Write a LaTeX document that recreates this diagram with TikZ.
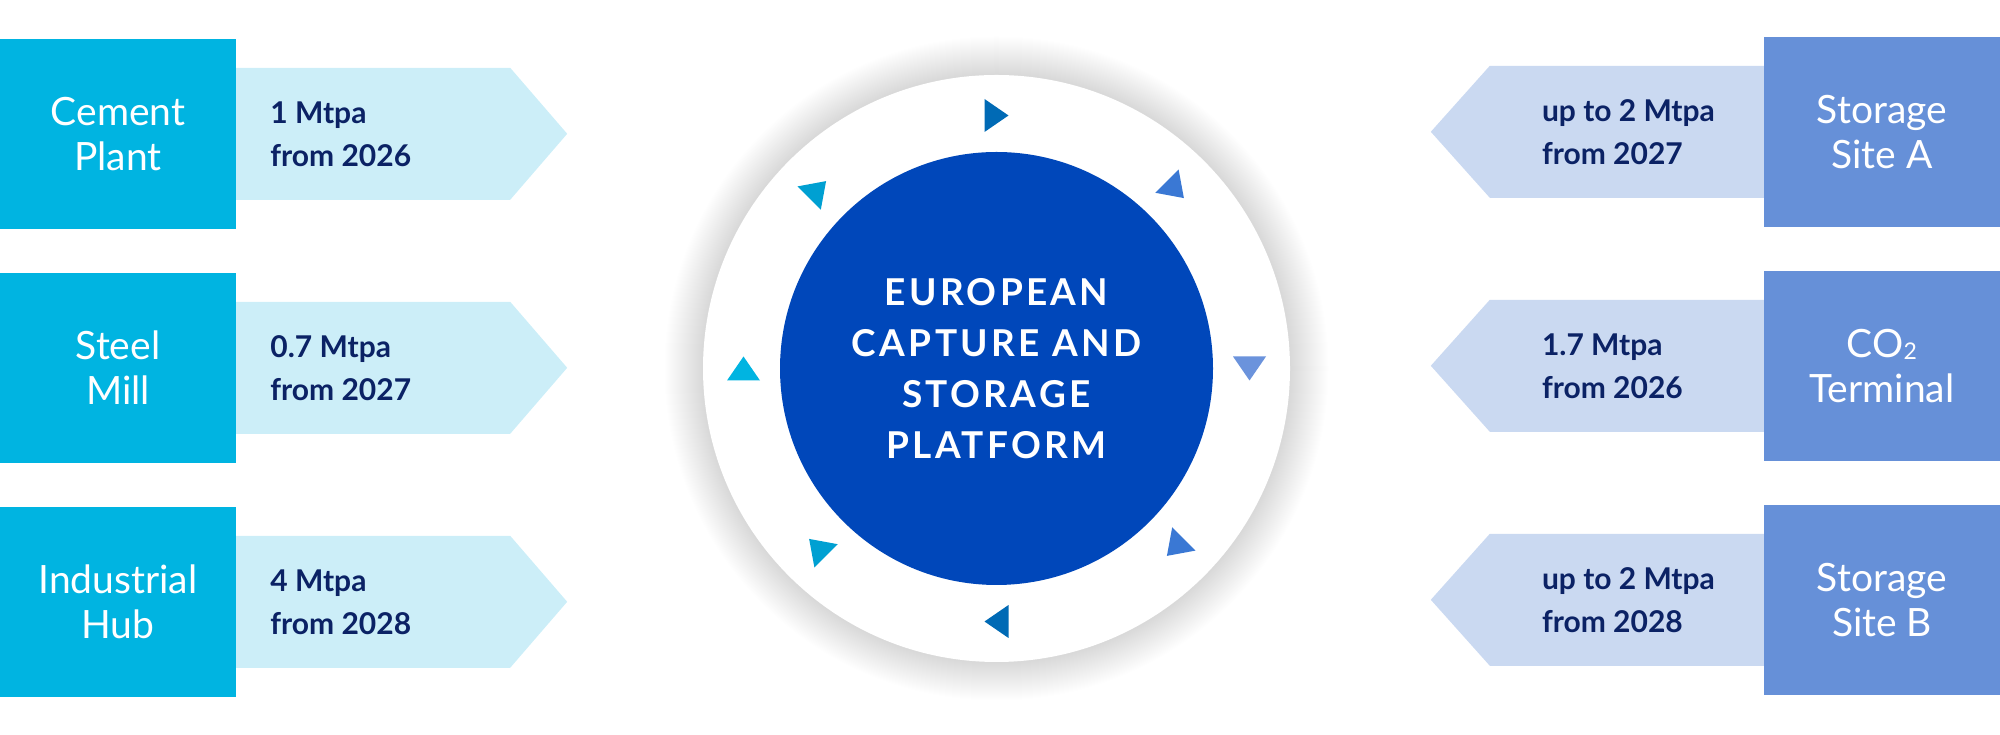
\documentclass[tikz,border=0pt]{standalone}
\usepackage{fontspec}
\setmainfont{Lato}
\newfontfamily\spacedfont[LetterSpace=9]{Lato}
\definecolor{srcfill}{HTML}{00B4E1}
\definecolor{srclight}{HTML}{CCEEF8}
\definecolor{sinkfill}{HTML}{6690D8}
\definecolor{sinklight}{HTML}{CAD9F1}
\definecolor{hubfill}{HTML}{0047BA}
\definecolor{navy}{HTML}{0B2265}
\definecolor{triA}{HTML}{6B93DC}
\definecolor{triB}{HTML}{3A78D4}
\definecolor{triC}{HTML}{006AB5}
\definecolor{triD}{HTML}{00A0D2}
\definecolor{triE}{HTML}{00B4E1}
\begin{document}
\begin{tikzpicture}[x=1pt,y=1pt,line join=round,
    srcbox/.style={fill=srcfill,text=white,minimum width=236pt,minimum height=190pt,inner sep=0pt,align=center,font=\fontsize{39}{45}\selectfont},
    sinkbox/.style={srcbox,fill=sinkfill},
    amount/.style={text=navy,align=left,inner sep=0pt,font=\bfseries\fontsize{30}{43}\selectfont}]
    \useasboundingbox (0,0) rectangle (2000,735);
    \coordinate (c) at (996.5,366.5);
    \foreach \i in {1,...,40} \fill[black,opacity=0.0022] (c) circle ({292pt+\i pt});
    \fill[white] (c) circle (293.5pt);
    \node[circle,fill=hubfill,minimum size=433pt,inner sep=0pt,text=white,align=center,
        font=\spacedfont\bfseries\fontsize{37}{51}\selectfont] (hub) at (c) {EUROPEAN\\CAPTURE AND\\STORAGE\\PLATFORM};
    \foreach \a/\col in {0/triA,45/triB,90/triC,135/triD,180/triE,225/triD,270/triC,315/triB}
        \fill[\col,shift={(c)},rotate=\a] (253,-12) -- (236.5,12) -- (269.5,12) -- cycle;
    \foreach \y/\n/\site/\amt in {601/1/Cement\\Plant/1 Mtpa\\from 2026,
        367/2/Steel\\Mill/0.7 Mtpa\\from 2027,133/3/Industrial\\Hub/4 Mtpa\\from 2028}
    {\node[srcbox] (src\n) at (118,\y) {\site};
     \fill[srclight] ([yshift=-29pt]src\n.north east) -- ++(274,0) -- ++(57,-66) -- ++(-57,-66) -- ++(-274,0) -- cycle;
     \node[amount,anchor=west] (srcamt\n) at ([xshift=34pt]src\n.east) {\amt};}
    \foreach \y/\n/\site/\amt in {603/1/Storage\\Site A/up to 2 Mtpa\\from 2027,
        369/2/CO\raisebox{-2pt}{\fontsize{23}{23}\selectfont 2}\\Terminal/1.7 Mtpa\\from 2026,135/3/Storage\\Site B/up to 2 Mtpa\\from 2028}
    {\node[sinkbox] (sink\n) at (1882,\y) {\site};
     \fill[sinklight] ([yshift=-29pt]sink\n.north west) -- ++(-274,0) -- ++(-59,-66) -- ++(59,-66) -- ++(274,0) -- cycle;
     \node[amount,anchor=west] (sinkamt\n) at ([xshift=-222pt]sink\n.west) {\amt};}
\end{tikzpicture}
\end{document}
